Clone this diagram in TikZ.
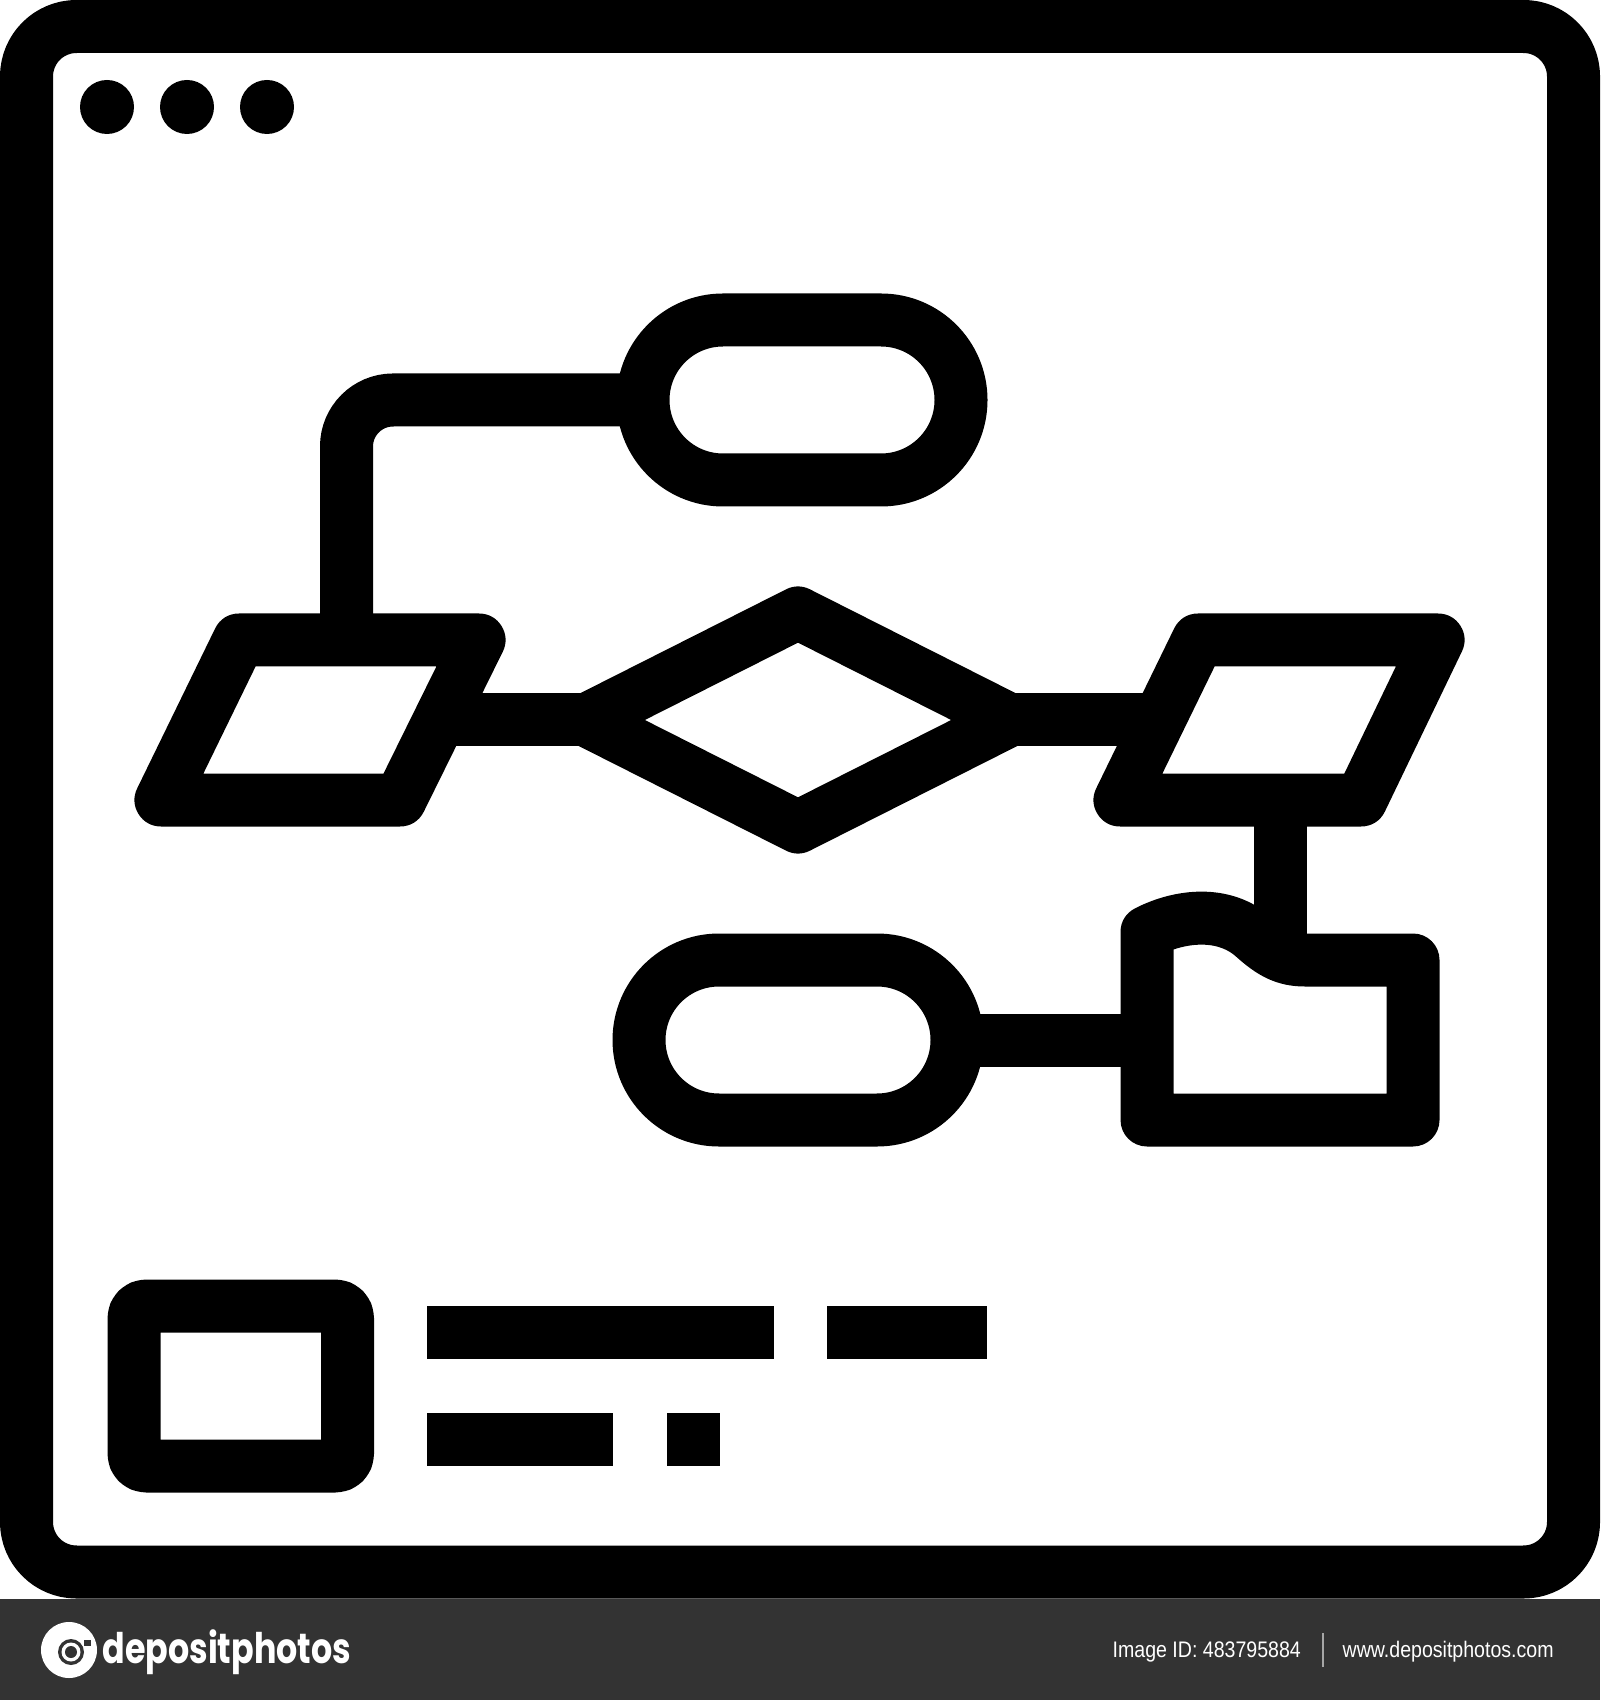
\documentclass[tikz,border=0pt]{standalone}
\usepackage{fontspec}
\setsansfont{Liberation Sans}
\newfontfamily\logofont{Poppins}
\usetikzlibrary{shapes.geometric}
\definecolor{footbg}{HTML}{333333}

\begin{document}
\begin{tikzpicture}
        [%%%%%%%%%%%%%%%%%%%%%%%%%%%%%%
        x=0.1mm, y=-0.1mm,
        icon/.style={draw=black, line width=5.3mm, line join=round},
        wire/.style={draw=black, line width=5.3mm},
        dot/.style={circle, fill=black, inner sep=0pt, minimum size=5.4mm},
        term/.style={icon, rectangle, rounded corners=8mm, minimum width=31.8mm,
          minimum height=16mm, inner sep=0pt, outer sep=0pt},
        decision/.style={icon, diamond, minimum width=42.4mm, minimum height=21.4mm,
          inner sep=0pt, outer sep=0pt},
        footer/.style={text=white, font=\sffamily\fontsize{6.4}{7}\selectfont,
          xscale=0.87, inner sep=0pt, anchor=base west},
        brand/.style={text=white, font=\logofont\bfseries\fontsize{12}{14}\selectfont,
          xscale=0.79, inner sep=0pt, anchor=base west},
        ]%%%%%%%%%%%%%%%%%%%%%%%%%%%%%%
        \useasboundingbox (0,0) rectangle (1600,1700);
        % Window frame and dots
        \draw[icon, rounded corners=5mm] (26.5,26.5) rectangle (1573.5,1572);
        \foreach \x [count=\i] in {107,187,267}{
          \node[dot] (dot\i) at (\x,107){};
        }
        % Flowchart shapes
        \node[term] (start) at (802,400){};
        \node[decision] (check) at (798,720){};
        \node[term] (stop) at (798,1040){};
        \draw[icon] (239,640) -- (479,640) -- (400,800) -- (161,800) -- cycle;
        \draw[icon] (1198,640) -- (1438,640) -- (1361,800) -- (1120,800) -- cycle;
        \draw[icon] (1147,932) .. controls (1180,915) and (1225,910) .. (1255,938)
          .. controls (1272,953) and (1285,960) .. (1305,960)
          -- (1413,960) -- (1413,1120) -- (1147,1120) -- cycle;
        \coordinate (in-top) at (346.5,640);
        \coordinate (in-east) at (439.5,720);
        \coordinate (out-west) at (1159,720);
        \coordinate (out-south) at (1280,800);
        \coordinate (doc-north) at (1280,960);
        \coordinate (doc-west) at (1147,1040);
        % Connectors
        \draw[wire, rounded corners=4.65mm] (in-top) |- (start.west);
        \draw[wire] (in-east) -- (check.west);
        \draw[wire] (check.east) -- (out-west);
        \draw[wire] (out-south) -- (doc-north);
        \draw[wire] (stop.east) -- (doc-west);
        % Picture box and text lines
        \node[icon, rectangle, rounded corners=1.2mm, minimum width=21.35mm,
          minimum height=16mm, inner sep=0pt] (thumb) at (240.75,1386){};
        \foreach \xa/\xb/\ya in {427/774/1306, 827/987/1306, 427/613/1413, 667/720/1413}{
          \fill (\xa,\ya) rectangle (\xb,\ya+53);
        }
        % Footer
        \fill[footbg] (0,1599) rectangle (1600,1700);
        \fill[white] (69,1650) circle[radius=2.8mm];
        \fill[footbg] (71,1652) circle[radius=1.3mm];
        \fill[white] (71,1652) circle[radius=0.95mm];
        \fill[footbg] (71,1652) circle[radius=0.6mm];
        \fill[footbg] (84,1640) rectangle (91,1646);
        \node[brand] (logo) at (102,1663){depositphotos};
        \node[footer] (imgid) at (1112,1657){Image ID: 483795884};
        \draw[gray!70, line width=0.15mm] (1323,1633) -- (1323,1667);
        \node[footer] (site) at (1342,1657){www.depositphotos.com};
      \end{tikzpicture}
\end{document}
